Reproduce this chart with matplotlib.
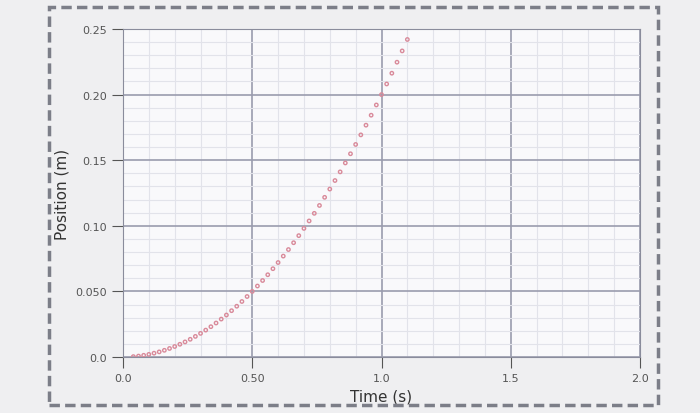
import matplotlib
matplotlib.use("Agg")
import matplotlib.pyplot as plt
from matplotlib.patches import Rectangle
from matplotlib.ticker import FixedLocator, MultipleLocator

time_s = [0.04,0.06,0.08,0.10,0.12,0.14,0.16,0.18,0.20,0.22,0.24,0.26,0.28,0.30,0.32,0.34,0.36,0.38,0.40,0.42,
          0.44,0.46,0.48,0.50,0.52,0.54,0.56,0.58,0.60,0.62,0.64,0.66,0.68,0.70,0.72,0.74,0.76,0.78,0.80,0.82,
          0.84,0.86,0.88,0.90,0.92,0.94,0.96,0.98,1.00,1.02,1.04,1.06,1.08,1.10]
position_m = [0.0003,0.0007,0.0013,0.002,0.0029,0.0039,0.0051,0.0065,0.008,0.0097,0.0115,0.0135,0.0157,0.018,
              0.0205,0.0231,0.0259,0.0289,0.032,0.0353,0.0387,0.0423,0.0461,0.050,0.0541,0.0583,0.0627,0.0673,
              0.072,0.0769,0.0819,0.0871,0.0925,0.098,0.1037,0.1095,0.1155,0.1217,0.128,0.1345,0.1411,0.1479,
              0.1549,0.162,0.1693,0.1767,0.1843,0.1921,0.200,0.2081,0.2163,0.2247,0.2333,0.242]
x_ticks = [0.0, 0.5, 1.0, 1.5, 2.0]
x_labels = ["0.0", "0.50", "1.0", "1.5", "2.0"]
y_ticks = [0.0, 0.05, 0.10, 0.15, 0.20, 0.25]
y_labels = ["0.0", "0.050", "0.10", "0.15", "0.20", "0.25"]

fig = plt.figure(figsize=(7, 4.14), dpi=100)
fig.patch.set_facecolor("#efeff1")
fig.add_artist(Rectangle((0.07, 0.02), 0.87, 0.96, transform=fig.transFigure, fill=False,
                         ls=(0, (3, 1.5)), lw=2.5, ec="#7c7e88"))
ax = fig.add_axes([123/700, 1-358/414, (640-123)/700, (358-30)/414])
ax.set_facecolor("#f9f9fb")
ax.scatter(time_s, position_m, s=6, facecolors="none", edgecolors="#d98a9a", lw=1.0, zorder=3)
ax.set_xlim(0, 2.0)
ax.set_ylim(0, 0.25)
ax.xaxis.set_major_locator(FixedLocator(x_ticks))
ax.set_xticklabels(x_labels)
ax.yaxis.set_major_locator(FixedLocator(y_ticks))
ax.set_yticklabels(y_labels)
ax.xaxis.set_minor_locator(MultipleLocator(0.1))
ax.yaxis.set_minor_locator(MultipleLocator(0.01))
ax.grid(which="major", color="#9a9cae", lw=1.2)
ax.grid(which="minor", color="#e2e3ea", lw=0.8)
ax.tick_params(labelsize=8, colors="#555", length=8)
ax.tick_params(which="minor", length=0)
for s in ax.spines.values():
    s.set_color("#8a8c9c")
ax.set_xlabel("Time (s)", fontsize=11, color="#333")
ax.set_ylabel("Position (m)", fontsize=11, color="#333")
fig.savefig("out.png", dpi=100, facecolor=fig.get_facecolor())
